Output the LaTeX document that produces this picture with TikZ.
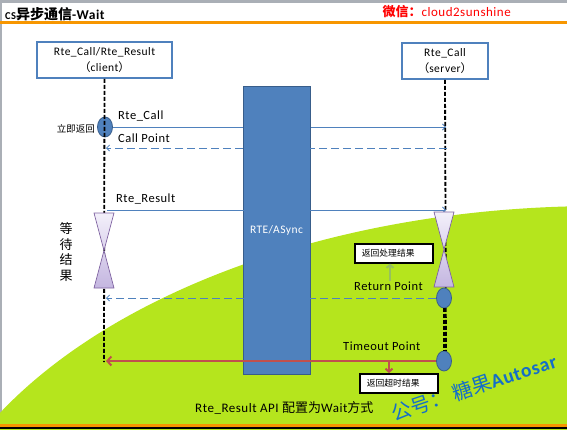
\documentclass[tikz,border=0pt]{standalone}
\usepackage{fontspec}
\setmainfont{Carlito}[LetterSpace=4]
\newfontfamily\cjk{Noto Sans CJK SC}
\usetikzlibrary{arrows.meta, shapes.geometric}

\definecolor{slideblue}{RGB}{79,129,189}
\definecolor{slidebluedark}{RGB}{56,93,138}
\definecolor{slidegreen}{RGB}{181,229,29}
\definecolor{slideorange}{RGB}{247,150,0}
\definecolor{slidegray}{RGB}{170,175,182}
\definecolor{timeoutred}{RGB}{192,80,77}
\definecolor{hourlight}{RGB}{243,240,250}
\definecolor{hourdark}{RGB}{196,182,224}
\definecolor{houredge}{RGB}{128,100,162}
\definecolor{markblue}{RGB}{20,110,200}
\definecolor{hintgreen}{RGB}{150,192,95}

\tikzset{
	rolebox/.style={draw=slideblue, line width=1.6pt, fill=white, align=center,
		font=\fontsize{11.5}{16}\selectfont, inner sep=0pt},
	lifeline/.style={line width=1.8pt, dash pattern=on 4pt off 2pt},
	msgline/.style={slideblue, line width=0.8pt, -{Straight Barb[length=3pt,width=6pt]}},
	retline/.style={msgline, dash pattern=on 8pt off 4pt},
	timeline/.style={timeoutred, line width=2pt, -{Straight Barb[length=4pt,width=9pt]}},
	waitpoint/.style={ellipse, draw=slidebluedark, line width=0.8pt, fill=slideblue,
		minimum width=15pt, minimum height=20pt, inner sep=0pt},
	msglabel/.style={anchor=west, font=\fontsize{12.5}{14}\selectfont, inner sep=0pt},
	resultbox/.style={draw=black, line width=1.6pt, fill=white, anchor=north west,
		minimum width=78pt, minimum height=19pt, text width=64pt, align=left,
		inner xsep=7pt, inner ysep=0pt, font=\cjk\fontsize{8.8}{9.5}\selectfont}
}

\begin{document}
\begin{tikzpicture}[x=1pt, y=-1pt]
		\useasboundingbox (0,0) rectangle (567,429);

		% slide frame
		\fill[slidegray] (0,0) rectangle (567,3);
		\fill[slidegray] (0,0) rectangle (1.5,429);
		\begin{scope}
			\clip (0,0) rectangle (567,429);
			\fill[slidegreen] (600,606) ellipse [x radius=685, y radius=400];
		\end{scope}
		\fill[slideorange] (0,20.5) rectangle (567,23.5);
		\fill[slideorange] (0,423.5) rectangle (567,426.5);
		\fill[black] (0,426.5) rectangle (567,429);

		\node[anchor=west, inner sep=0pt, font=\bfseries] (title) at (5,14)
			{{\fontsize{10.5}{12}\selectfont CS}{\cjk\fontsize{14}{15}\selectfont 异步通信}{\fontsize{13.5}{15}\selectfont -Wait}};
		\node[anchor=east, inner sep=0pt, text=red] (wechat) at (511,12)
			{{\cjk\bfseries\fontsize{13}{15}\selectfont 微信：}{\fontsize{13}{15}\selectfont cloud2sunshine}};

		% roles
		\node[rolebox, minimum width=135pt, minimum height=36pt] (client) at (104.5,60)
			{Rte\_Call/Rte\_Result\\{\cjk （}client{\cjk ）}};
		\node[rolebox, minimum width=86pt, minimum height=36pt] (server) at (445,61)
			{Rte\_Call\\{\cjk （}server{\cjk ）}};

		\coordinate (cEnd) at (104,362);
		\coordinate (sEnd) at (446,361);

		\node[waitpoint] (callpt) at (105,127) {};
		\coordinate (sCall) at (446,127);
		\draw[msgline] (callpt.east) -- (sCall);

		% RTE
		\node[draw=slidebluedark, line width=1pt, fill=slideblue, minimum width=67pt,
			minimum height=288pt, inner sep=0pt, text=white,
			font=\fontsize{11.5}{12}\selectfont] (rte) at (276.5,230) {RTE/ASync};

		\draw[lifeline] (client.south) -- (cEnd);
		\draw[lifeline] (server.south) -- (sEnd);

		\coordinate (sPoint) at (447,148);
		\coordinate (cPoint) at (106,148);
		\draw[retline] (sPoint) -- (cPoint);

		\coordinate (cResult) at (107,210);
		\coordinate (sResult) at (446,210);
		\draw[msgline] (cResult) -- (sResult);

		% waiting
		\foreach \hx/\hy in {104/213, 444/212} {
			\shade[top color=hourlight, bottom color=hourdark, draw=houredge, line width=0.7pt]
				(\hx-10,\hy) -- (\hx+10,\hy) -- (\hx,\hy+37.5) -- (\hx+10,\hy+75)
				-- (\hx-10,\hy+75) -- (\hx,\hy+37.5) -- cycle;
		}

		\node[waitpoint] (retpt) at (444,298) {};
		\node[waitpoint] (outpt) at (444,361) {};
		\draw[lifeline] (retpt.south) -- (outpt.north);

		\coordinate (cReturn) at (106,298);
		\draw[retline] (retpt.west) -- (cReturn);
		\coordinate (cTimeout) at (106,361);
		\draw[timeline] (outpt.west) -- (cTimeout);

		% labels
		\node[msglabel] (lblcall) at (118,116) {Rte\_Call};
		\node[msglabel] (lblpoint) at (118,138) {Call Point};
		\node[msglabel] (lblresult) at (116,199) {Rte\_Result};
		\node[anchor=east, inner sep=0pt, font=\cjk\fontsize{9.5}{11}\selectfont] (lblnow) at (95,129) {立即返回};
		\node[align=center, inner sep=0pt, font=\cjk\fontsize{13}{15.5}\selectfont] (lblwait) at (66,252)
			{等\\待\\结\\果};
		\node[msglabel] (lblreturn) at (354,286) {Return Point};
		\node[msglabel] (lbltimeout) at (343,346) {Timeout Point};

		\node[resultbox] (okbox) at (354,243) {返回处理结果};
		\node[resultbox] (outbox) at (359,373) {返回超时结果};
		\coordinate (okFrom) at (390,281);
		\draw[hintgreen, line width=2pt, -{Straight Barb[length=3pt,width=7pt]}] (okFrom) -- (okbox.south -| okFrom);
		\coordinate (outFrom) at (389,362);
		\draw[timeoutred, line width=2pt, -{Straight Barb[length=3pt,width=7pt]}] (outFrom) -- (outbox.north -| outFrom);

		\node[anchor=west, inner sep=0pt, font=\fontsize{13}{14}\selectfont] (footer) at (195,408)
			{Rte\_Result API {\cjk 配置为}Wait{\cjk 方式}};
		\node[rotate=18.5, inner sep=0pt, text=markblue] (brand) at (474,387)
			{{\cjk\fontsize{20}{22}\selectfont 公号：\hspace{4pt}糖果}{\bfseries\fontsize{19.5}{22}\selectfont Autosar}};
	\end{tikzpicture}
\end{document}
